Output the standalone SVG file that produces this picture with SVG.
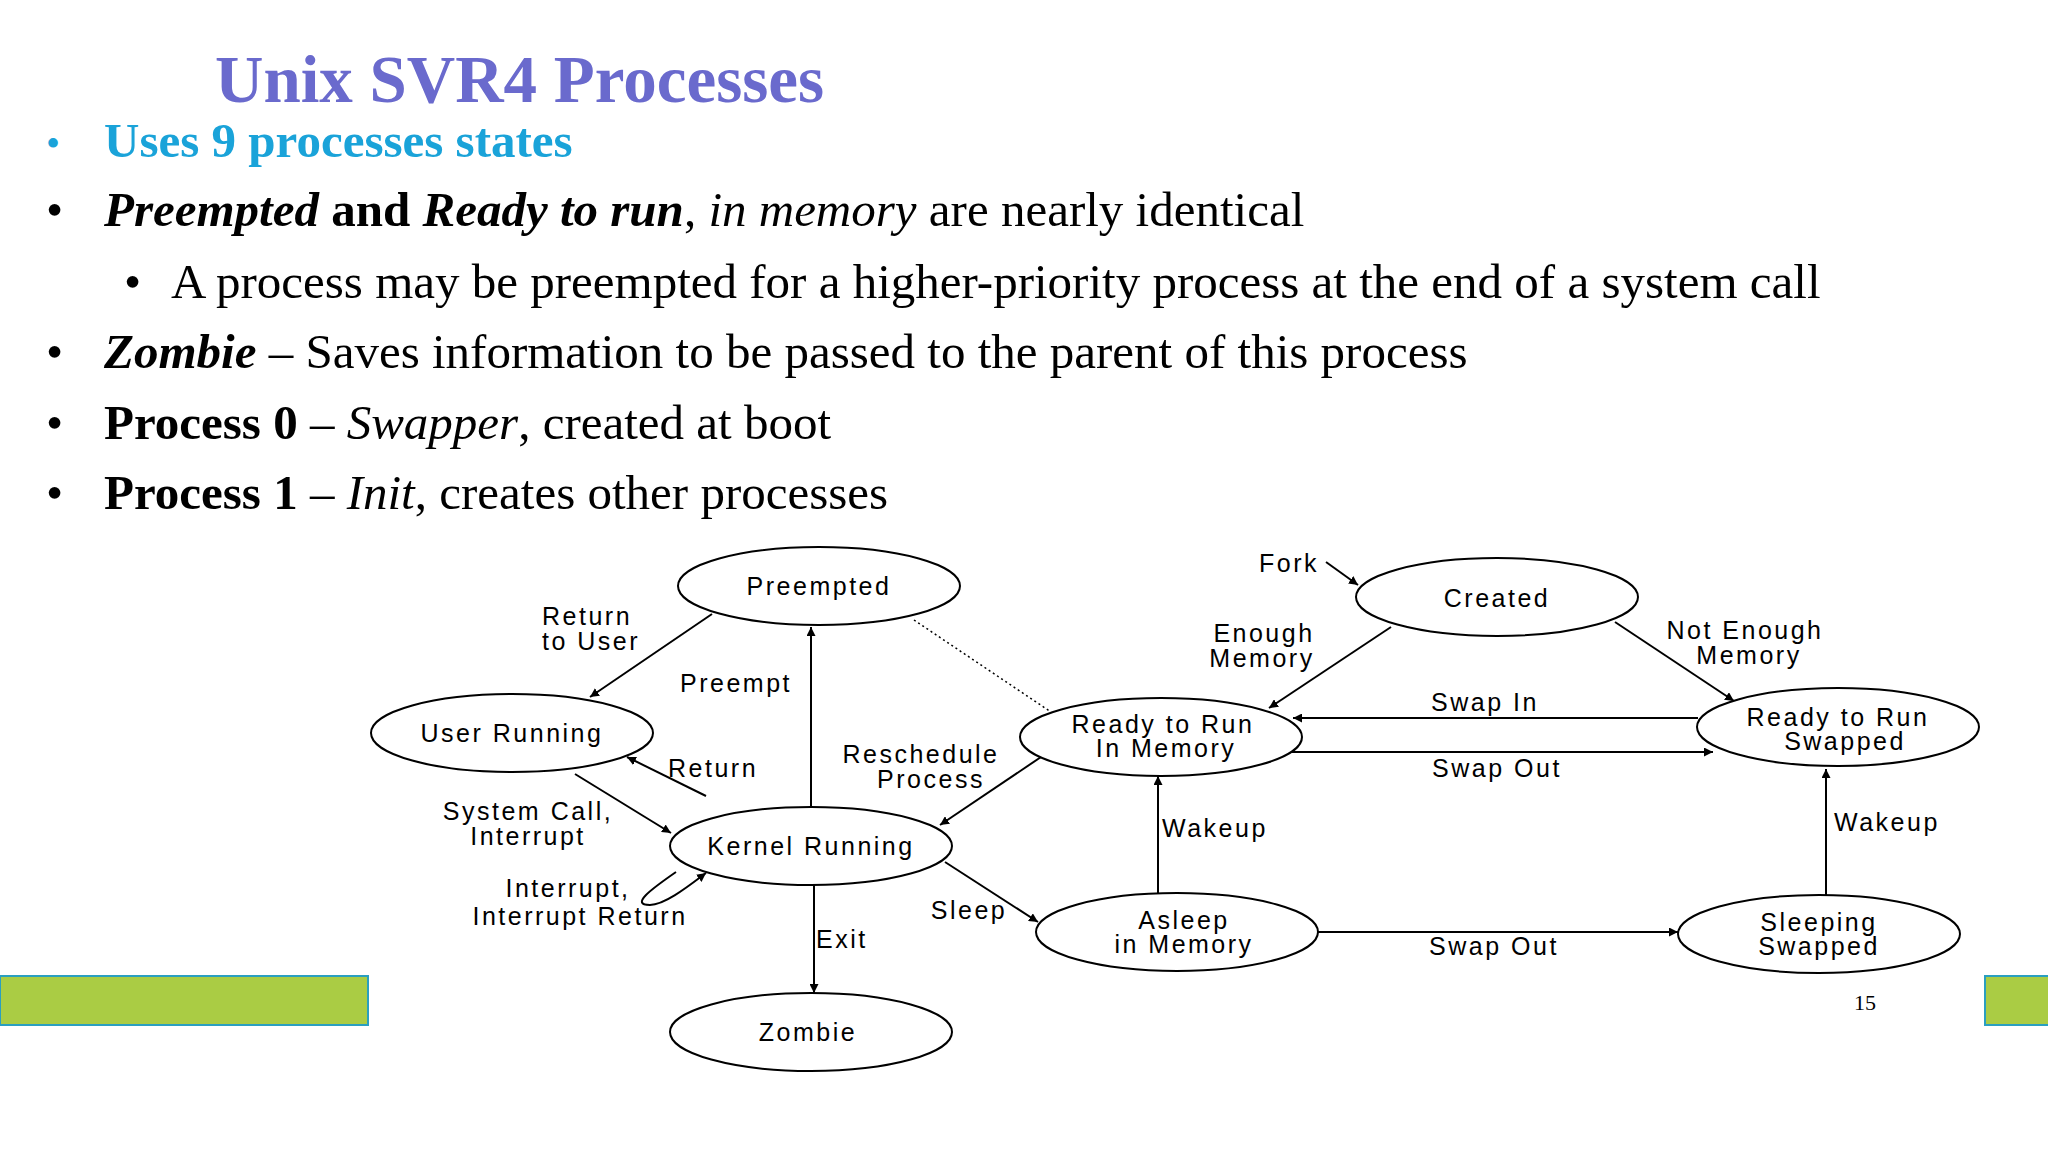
<svg xmlns="http://www.w3.org/2000/svg" width="2048" height="1152" viewBox="0 0 2048 1152">
<defs>
<marker id="ah" viewBox="0 0 10 10" refX="10" refY="5" markerWidth="9" markerHeight="9" markerUnits="userSpaceOnUse" orient="auto"><path d="M0,0 L10,5 L0,10 z" fill="#000"/></marker>
<style>
.t{font-family:"Liberation Serif","Times New Roman",serif;font-size:49px;fill:#000}
.n{fill:#fff;stroke:#000;stroke-width:2}
.l{font-family:"Liberation Sans",Arial,sans-serif;font-size:25px;letter-spacing:2.5px;fill:#000}
.c{text-anchor:middle}
.e{stroke:#000;stroke-width:2;fill:none;marker-end:url(#ah)}
</style>
</defs>
<rect width="2048" height="1152" fill="#fff"/>
<rect x="0" y="976" width="368" height="49" fill="#aacc44" stroke="#2a9fc0" stroke-width="2"/>
<rect x="1985" y="976" width="70" height="49" fill="#aacc44" stroke="#2a9fc0" stroke-width="2"/>
<text x="215" y="102" style="font-family:'Liberation Serif',serif;font-weight:bold;font-size:67px;fill:#6a6acd">Unix SVR4 Processes</text>
<text x="46" y="157" style="font-family:'Liberation Serif',serif;font-size:40px;fill:#1aa3d9">•</text>
<text x="104" y="157" style="font-family:'Liberation Serif',serif;font-weight:bold;font-size:49px;fill:#1aa3d9">Uses 9 processes states</text>
<text class="t" x="46" y="226">•</text>
<text class="t" x="104" y="226"><tspan font-weight="bold" font-style="italic">Preempted</tspan><tspan font-weight="bold"> and </tspan><tspan font-weight="bold" font-style="italic">Ready to run</tspan>, <tspan font-style="italic">in memory</tspan> are nearly identical</text>
<text class="t" x="124" y="298">•</text>
<text class="t" x="171" y="298">A process may be preempted for a higher-priority process at the end of a system call</text>
<text class="t" x="46" y="368">•</text>
<text class="t" x="104" y="368"><tspan font-weight="bold" font-style="italic">Zombie</tspan> – Saves information to be passed to the parent of this process</text>
<text class="t" x="46" y="439">•</text>
<text class="t" x="104" y="439"><tspan font-weight="bold">Process 0</tspan> – <tspan font-style="italic">Swapper</tspan>, created at boot</text>
<text class="t" x="46" y="509">•</text>
<text class="t" x="104" y="509"><tspan font-weight="bold">Process 1</tspan> – <tspan font-style="italic">Init</tspan>, creates other processes</text>
<text x="1865" y="1010" style="font-family:'Liberation Serif',serif;font-size:22px" text-anchor="middle">15</text>

<g id="connectors">
<path class="e" d="M712,614 L590,697"/>
<path class="e" d="M811,807 L811,627"/>
<path class="e" d="M575,774 L671,833"/>
<path class="e" d="M706,796 L627,757"/>
<path class="e" d="M676,872 C650,890 630,905 650,905 C665,905 690,885 706,873"/>
<path class="e" d="M814,885 L814,993"/>
<path class="e" d="M945,862 L1038,922"/>
<path class="e" d="M1041,757 L940,825"/>
<path d="M914,620 L1051,712" stroke="#000" stroke-width="1.5" stroke-dasharray="2,3" fill="none"/>
<path class="e" d="M1326,562 L1358,585"/>
<path class="e" d="M1391,627 L1269,708"/>
<path class="e" d="M1615,622 L1734,701"/>
<path class="e" d="M1698,718 L1293,718"/>
<path class="e" d="M1286,752 L1713,752"/>
<path class="e" d="M1158,895 L1158,776"/>
<path class="e" d="M1826,896 L1826,769"/>
<path class="e" d="M1316,932 L1678,932"/>
</g>
<g id="edge-labels">
<text class="l" x="542" y="625">Return</text>
<text class="l" x="542" y="650">to User</text>
<text class="l" x="680" y="692">Preempt</text>
<text class="l" x="668" y="777">Return</text>
<text class="l c" x="528" y="820">System Call,</text>
<text class="l c" x="528" y="845">Interrupt</text>
<text class="l c" x="568" y="897">Interrupt,</text>
<text class="l c" x="580" y="925">Interrupt Return</text>
<text class="l" x="816" y="948">Exit</text>
<text class="l c" x="969" y="919">Sleep</text>
<text class="l c" x="921" y="763">Reschedule</text>
<text class="l c" x="931" y="788">Process</text>
<text class="l c" x="1289" y="572">Fork</text>
<text class="l c" x="1264" y="642">Enough</text>
<text class="l c" x="1262" y="667">Memory</text>
<text class="l c" x="1745" y="639">Not Enough</text>
<text class="l c" x="1749" y="664">Memory</text>
<text class="l c" x="1485" y="711">Swap In</text>
<text class="l c" x="1497" y="777">Swap Out</text>
<text class="l" x="1162" y="837">Wakeup</text>
<text class="l" x="1834" y="831">Wakeup</text>
<text class="l c" x="1494" y="955">Swap Out</text>
</g>
<g id="preempted"><ellipse class="n" cx="819" cy="586" rx="141" ry="39"/><text class="l c" x="819" y="595">Preempted</text></g>
<g id="user-running"><ellipse class="n" cx="512" cy="733" rx="141" ry="39"/><text class="l c" x="512" y="742">User Running</text></g>
<g id="kernel-running"><ellipse class="n" cx="811" cy="846" rx="141" ry="39"/><text class="l c" x="811" y="855">Kernel Running</text></g>
<g id="zombie"><ellipse class="n" cx="811" cy="1032" rx="141" ry="39"/><text class="l c" x="808" y="1041">Zombie</text></g>
<g id="created"><ellipse class="n" cx="1497" cy="597" rx="141" ry="39"/><text class="l c" x="1497" y="607">Created</text></g>
<g id="ready-mem"><ellipse class="n" cx="1161" cy="737" rx="141" ry="39"/><text class="l c" x="1163" y="733">Ready to Run</text><text class="l c" x="1166" y="757">In Memory</text></g>
<g id="ready-swapped"><ellipse class="n" cx="1838" cy="727" rx="141" ry="39"/><text class="l c" x="1838" y="726">Ready to Run</text><text class="l c" x="1845" y="750">Swapped</text></g>
<g id="asleep-mem"><ellipse class="n" cx="1177" cy="932" rx="141" ry="39"/><text class="l c" x="1184" y="929">Asleep</text><text class="l c" x="1184" y="953">in Memory</text></g>
<g id="sleeping-swapped"><ellipse class="n" cx="1819" cy="934" rx="141" ry="39"/><text class="l c" x="1819" y="931">Sleeping</text><text class="l c" x="1819" y="955">Swapped</text></g>
</svg>
